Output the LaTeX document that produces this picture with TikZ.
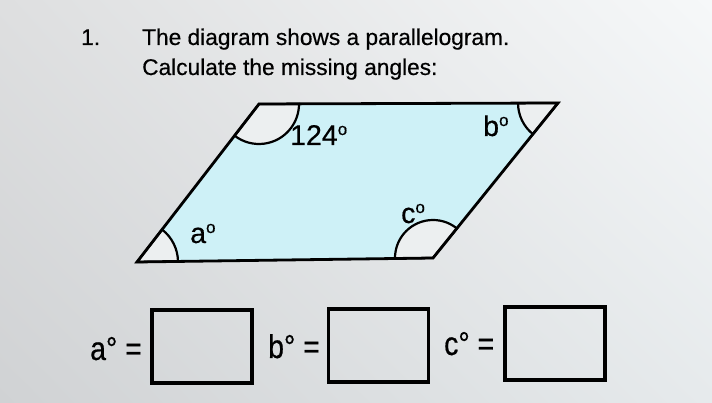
\documentclass[tikz,border=0pt]{standalone}
\usepackage{fontspec}
\setmainfont{Liberation Sans}
\newfontfamily\qfont[FakeBold=0.5]{Liberation Sans}
\newfontfamily\ansfont[FakeStretch=0.86, FakeBold=0.5]{Liberation Sans}
\usepackage{tikz}
\usetikzlibrary{positioning, calc, shadings}

\definecolor{paraBlue}{RGB}{206,241,247}
\definecolor{sectorGrey}{RGB}{236,239,240}
\definecolor{bgUL}{RGB}{222,223,224}
\definecolor{bgUR}{RGB}{246,248,249}
\definecolor{bgLL}{RGB}{208,210,212}
\definecolor{bgLR}{RGB}{230,234,236}

% raised letter o used as degree sign in the diagram
\newcommand{\dego}{\raisebox{10pt}{\fontsize{17}{17}\selectfont o}}

\begin{document}
\begin{tikzpicture}[x=1pt, y=1pt]
\useasboundingbox (0,0) rectangle (712,403);
\shade [upper left=bgUL, upper right=bgUR, lower left=bgLL, lower right=bgLR] (0,0) rectangle (712,403);
% question text
\node [anchor=base west, inner sep=0, font=\qfont\fontsize{22.7}{26}\selectfont] (num) at (81, 358) {1.};
\node [anchor=base west, inner sep=0, font=\qfont\fontsize{22.7}{26}\selectfont] (line1) at (142, 358) {The diagram shows a parallelogram.};
\node [anchor=base west, inner sep=0, font=\qfont\fontsize{22.7}{26}\selectfont] (line2) at (142, 328) {Calculate the missing angles:};
% parallelogram
\coordinate (BL) at (137, 141);
\coordinate (TL) at (259, 299);
\coordinate (TR) at (558, 300);
\coordinate (BR) at (433, 145);
\fill [paraBlue] (BL) -- (TL) -- (TR) -- (BR) -- cycle;
\filldraw [fill=sectorGrey, line width=2.2pt] (BL) -- ++(0.8:41) arc [start angle=0.8, end angle=52.3, radius=41] -- cycle;
\filldraw [fill=sectorGrey, line width=2.2pt] (TL) -- ++(-127.7:40) arc [start angle=-127.7, end angle=0.2, radius=40] -- cycle;
\filldraw [fill=sectorGrey, line width=2.2pt] (TR) -- ++(180.2:40) arc [start angle=180.2, end angle=231.1, radius=40] -- cycle;
\filldraw [fill=sectorGrey, line width=2.2pt] (BR) -- ++(51.1:38) arc [start angle=51.1, end angle=180.8, radius=38] -- cycle;
\draw [line width=2.8pt, line join=miter] (BL) -- (TL) -- (TR) -- (BR) -- cycle;
% angle labels
\node [anchor=base west, inner sep=0, font=\qfont\fontsize{28.5}{32}\selectfont] (given) at (290, 258) {124\dego};
\node [anchor=base west, inner sep=0, font=\qfont\fontsize{28.5}{32}\selectfont] (angB) at (483, 267) {b\dego};
\node [anchor=base west, inner sep=0, font=\qfont\fontsize{28.5}{32}\selectfont] (angC) at (401, 180) {c\dego};
\node [anchor=base west, inner sep=0, font=\qfont\fontsize{28.5}{32}\selectfont] (angA) at (190, 160) {a\dego};
% answer boxes
\foreach \n/\tx/\ty/\bx/\by in {a/90/43/202/56.5, b/268/45/378.5/57.5, c/444/48/555/59.5}
  {
  \node [anchor=base west, inner sep=0, font=\ansfont\fontsize{33}{36}\selectfont] (lbl\n) at (\tx, \ty) {\n° =};
  \node [draw, line width=3.6pt, minimum width=100pt, minimum height=73pt, inner sep=0] (box\n) at (\bx, \by) {};
  }
\end{tikzpicture}
\end{document}
